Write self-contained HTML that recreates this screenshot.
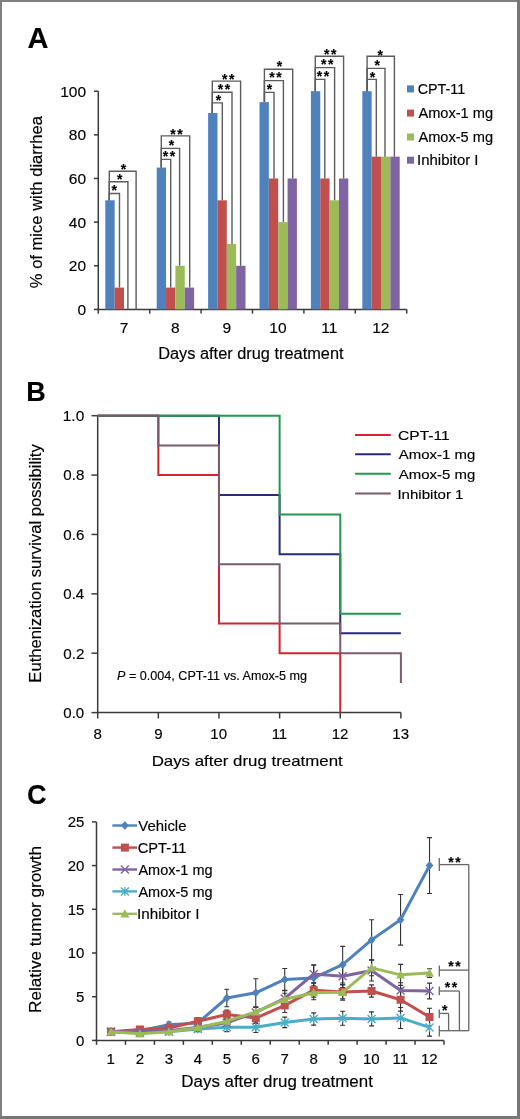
<!DOCTYPE html>
<html><head><meta charset="utf-8"><title>Figure</title>
<style>html,body{margin:0;padding:0;background:#fff;}svg{display:block;}text{stroke:#000;stroke-width:0.15px;}</style>
</head><body>
<svg width="520" height="1119" viewBox="0 0 520 1119" font-family='"Liberation Sans", Arial, sans-serif'>
<rect x="0" y="0" width="520" height="1119" fill="#fff"/>
<text x="27.47" y="47.70" font-size="29" font-weight="bold" fill="#000" >A</text>
<path d="M98.3 91.2 V309.4 H406.7" fill="none" stroke="#3a3a3a" stroke-width="1.5"/>
<path d="M94 309.40 H98.3" stroke="#3a3a3a" stroke-width="1.5"/>
<text x="77.44" y="314.86" font-size="15.5" fill="#000" >0</text>
<path d="M94 265.76 H98.3" stroke="#3a3a3a" stroke-width="1.5"/>
<text x="68.84" y="271.22" font-size="15.5" fill="#000" >20</text>
<path d="M94 222.12 H98.3" stroke="#3a3a3a" stroke-width="1.5"/>
<text x="68.84" y="227.58" font-size="15.5" fill="#000" >40</text>
<path d="M94 178.48 H98.3" stroke="#3a3a3a" stroke-width="1.5"/>
<text x="68.84" y="183.94" font-size="15.5" fill="#000" >60</text>
<path d="M94 134.84 H98.3" stroke="#3a3a3a" stroke-width="1.5"/>
<text x="68.84" y="140.30" font-size="15.5" fill="#000" >80</text>
<path d="M94 91.20 H98.3" stroke="#3a3a3a" stroke-width="1.5"/>
<text x="60.23" y="96.66" font-size="15.5" fill="#000" >100</text>
<path d="M98.30 309.4 V313.6" stroke="#3a3a3a" stroke-width="1.5"/>
<path d="M149.70 309.4 V313.6" stroke="#3a3a3a" stroke-width="1.5"/>
<path d="M201.10 309.4 V313.6" stroke="#3a3a3a" stroke-width="1.5"/>
<path d="M252.50 309.4 V313.6" stroke="#3a3a3a" stroke-width="1.5"/>
<path d="M303.90 309.4 V313.6" stroke="#3a3a3a" stroke-width="1.5"/>
<path d="M355.30 309.4 V313.6" stroke="#3a3a3a" stroke-width="1.5"/>
<path d="M406.70 309.4 V313.6" stroke="#3a3a3a" stroke-width="1.5"/>
<rect x="105.31" y="200.30" width="9.35" height="109.10" fill="#4F81BD"/>
<rect x="114.65" y="287.58" width="9.35" height="21.82" fill="#C0504D"/>
<text x="119.70" y="332.60" font-size="15.5" fill="#000" >7</text>
<rect x="156.71" y="167.57" width="9.35" height="141.83" fill="#4F81BD"/>
<rect x="166.05" y="287.58" width="9.35" height="21.82" fill="#C0504D"/>
<rect x="175.40" y="265.76" width="9.35" height="43.64" fill="#9BBB59"/>
<rect x="184.75" y="287.58" width="9.35" height="21.82" fill="#8064A2"/>
<text x="171.06" y="332.60" font-size="15.5" fill="#000" >8</text>
<rect x="208.11" y="113.02" width="9.35" height="196.38" fill="#4F81BD"/>
<rect x="217.45" y="200.30" width="9.35" height="109.10" fill="#C0504D"/>
<rect x="226.80" y="243.94" width="9.35" height="65.46" fill="#9BBB59"/>
<rect x="236.15" y="265.76" width="9.35" height="43.64" fill="#8064A2"/>
<text x="222.50" y="332.60" font-size="15.5" fill="#000" >9</text>
<rect x="259.51" y="102.11" width="9.35" height="207.29" fill="#4F81BD"/>
<rect x="268.85" y="178.48" width="9.35" height="130.92" fill="#C0504D"/>
<rect x="278.20" y="222.12" width="9.35" height="87.28" fill="#9BBB59"/>
<rect x="287.55" y="178.48" width="9.35" height="130.92" fill="#8064A2"/>
<text x="269.29" y="332.60" font-size="15.5" fill="#000" >10</text>
<rect x="310.91" y="91.20" width="9.35" height="218.20" fill="#4F81BD"/>
<rect x="320.25" y="178.48" width="9.35" height="130.92" fill="#C0504D"/>
<rect x="329.60" y="200.30" width="9.35" height="109.10" fill="#9BBB59"/>
<rect x="338.95" y="178.48" width="9.35" height="130.92" fill="#8064A2"/>
<text x="321.35" y="332.60" font-size="15.5" fill="#000" >11</text>
<rect x="362.31" y="91.20" width="9.35" height="218.20" fill="#4F81BD"/>
<rect x="371.65" y="156.66" width="9.35" height="152.74" fill="#C0504D"/>
<rect x="381.00" y="156.66" width="9.35" height="152.74" fill="#9BBB59"/>
<rect x="390.35" y="156.66" width="9.35" height="152.74" fill="#8064A2"/>
<text x="372.20" y="332.60" font-size="15.5" fill="#000" >12</text>
<path d="M109.3 200.30 V193.5 H119.5 V287.58" fill="none" stroke="#5c5c5c" stroke-width="1.4"/>
<text x="111.47" y="194.77" font-size="14" font-weight="bold" fill="#000">*</text>
<path d="M109.3 200.30 V181.7 H127.9 V309.40" fill="none" stroke="#5c5c5c" stroke-width="1.4"/>
<text x="116.97" y="184.37" font-size="14" font-weight="bold" fill="#000">*</text>
<path d="M109.3 200.30 V171.2 H136.1 V309.40" fill="none" stroke="#5c5c5c" stroke-width="1.4"/>
<text x="120.87" y="174.07" font-size="14" font-weight="bold" fill="#000">*</text>
<path d="M161.3 167.57 V159.4 H170.7 V287.58" fill="none" stroke="#5c5c5c" stroke-width="1.4"/>
<text x="162.77 169.77" y="160.77" font-size="14" font-weight="bold" fill="#000">**</text>
<path d="M161.3 167.57 V148.4 H179.6 V265.76" fill="none" stroke="#5c5c5c" stroke-width="1.4"/>
<text x="168.77" y="149.97" font-size="14" font-weight="bold" fill="#000">*</text>
<path d="M161.3 167.57 V135.9 H189.7 V287.58" fill="none" stroke="#5c5c5c" stroke-width="1.4"/>
<text x="170.22 177.22" y="138.57" font-size="14" font-weight="bold" fill="#000">**</text>
<path d="M212.3 113.02 V102.9 H222.3 V200.30" fill="none" stroke="#5c5c5c" stroke-width="1.4"/>
<text x="215.77" y="104.57" font-size="14" font-weight="bold" fill="#000">*</text>
<path d="M212.3 113.02 V92.3 H232.0 V243.94" fill="none" stroke="#5c5c5c" stroke-width="1.4"/>
<text x="217.67 224.67" y="94.17" font-size="14" font-weight="bold" fill="#000">**</text>
<path d="M212.3 113.02 V81.1 H240.6 V265.76" fill="none" stroke="#5c5c5c" stroke-width="1.4"/>
<text x="222.07 229.07" y="83.77" font-size="14" font-weight="bold" fill="#000">**</text>
<path d="M264.4 102.11 V92.4 H274.0 V178.48" fill="none" stroke="#5c5c5c" stroke-width="1.4"/>
<text x="266.87" y="93.97" font-size="14" font-weight="bold" fill="#000">*</text>
<path d="M264.4 102.11 V80.6 H283.4 V222.12" fill="none" stroke="#5c5c5c" stroke-width="1.4"/>
<text x="269.37 276.37" y="81.87" font-size="14" font-weight="bold" fill="#000">**</text>
<path d="M264.4 102.11 V69.3 H292.7 V178.48" fill="none" stroke="#5c5c5c" stroke-width="1.4"/>
<text x="276.67" y="71.47" font-size="14" font-weight="bold" fill="#000">*</text>
<path d="M315.3 91.20 V79.4 H324.8 V178.48" fill="none" stroke="#5c5c5c" stroke-width="1.4"/>
<text x="316.77 323.77" y="81.47" font-size="14" font-weight="bold" fill="#000">**</text>
<path d="M315.3 91.20 V67.6 H334.6 V200.30" fill="none" stroke="#5c5c5c" stroke-width="1.4"/>
<text x="321.07 328.07" y="69.17" font-size="14" font-weight="bold" fill="#000">**</text>
<path d="M315.3 91.20 V56.3 H343.6 V178.48" fill="none" stroke="#5c5c5c" stroke-width="1.4"/>
<text x="323.97 330.97" y="58.77" font-size="14" font-weight="bold" fill="#000">**</text>
<path d="M367.1 91.20 V79.4 H376.3 V156.66" fill="none" stroke="#5c5c5c" stroke-width="1.4"/>
<text x="369.77" y="81.87" font-size="14" font-weight="bold" fill="#000">*</text>
<path d="M367.1 91.20 V68.4 H385.0 V156.66" fill="none" stroke="#5c5c5c" stroke-width="1.4"/>
<text x="374.57" y="69.77" font-size="14" font-weight="bold" fill="#000">*</text>
<path d="M367.1 91.20 V56.3 H394.4 V156.66" fill="none" stroke="#5c5c5c" stroke-width="1.4"/>
<text x="377.57" y="59.97" font-size="14" font-weight="bold" fill="#000">*</text>
<rect x="407" y="85.40" width="7" height="7" fill="#4F81BD"/>
<text x="417.68" y="93.90" font-size="14" textLength="47.58" lengthAdjust="spacingAndGlyphs" fill="#000" >CPT-11</text>
<rect x="407" y="109.60" width="7" height="7" fill="#C0504D"/>
<text x="418.40" y="118.10" font-size="14" textLength="74.69" lengthAdjust="spacingAndGlyphs" fill="#000" >Amox-1 mg</text>
<rect x="407" y="133.50" width="7" height="7" fill="#9BBB59"/>
<text x="418.40" y="142.00" font-size="14" textLength="74.69" lengthAdjust="spacingAndGlyphs" fill="#000" >Amox-5 mg</text>
<rect x="407" y="156.70" width="7" height="7" fill="#8064A2"/>
<text x="417.06" y="165.20" font-size="14" textLength="61.44" lengthAdjust="spacingAndGlyphs" fill="#000" >Inhibitor I</text>
<text x="158.19" y="359.20" font-size="16" textLength="185.35" lengthAdjust="spacingAndGlyphs" fill="#000" >Days after drug treatment</text>
<text transform="translate(41.60,288.18) rotate(-90)" font-size="16.3" textLength="172.13" lengthAdjust="spacingAndGlyphs" fill="#000">% of mice with diarrhea</text>
<text x="26.25" y="401.20" font-size="27" font-weight="bold" fill="#000" >B</text>
<path d="M97.7 415.7 V712.6 H400.9" fill="none" stroke="#3a3a3a" stroke-width="1.5"/>
<path d="M91.5 712.60 H97.7" stroke="#3a3a3a" stroke-width="1.5"/>
<text x="63.30" y="717.88" font-size="15" textLength="20.93" lengthAdjust="spacingAndGlyphs" fill="#000" >0.0</text>
<path d="M91.5 653.22 H97.7" stroke="#3a3a3a" stroke-width="1.5"/>
<text x="63.29" y="658.50" font-size="15" textLength="21.17" lengthAdjust="spacingAndGlyphs" fill="#000" >0.2</text>
<path d="M91.5 593.84 H97.7" stroke="#3a3a3a" stroke-width="1.5"/>
<text x="63.30" y="599.12" font-size="15" textLength="20.85" lengthAdjust="spacingAndGlyphs" fill="#000" >0.4</text>
<path d="M91.5 534.46 H97.7" stroke="#3a3a3a" stroke-width="1.5"/>
<text x="63.30" y="539.74" font-size="15" textLength="21.01" lengthAdjust="spacingAndGlyphs" fill="#000" >0.6</text>
<path d="M91.5 475.08 H97.7" stroke="#3a3a3a" stroke-width="1.5"/>
<text x="63.30" y="480.36" font-size="15" textLength="21.01" lengthAdjust="spacingAndGlyphs" fill="#000" >0.8</text>
<path d="M91.5 415.70 H97.7" stroke="#3a3a3a" stroke-width="1.5"/>
<text x="62.74" y="420.98" font-size="15" textLength="21.50" lengthAdjust="spacingAndGlyphs" fill="#000" >1.0</text>
<path d="M97.70 712.6 V718.5" stroke="#3a3a3a" stroke-width="1.5"/>
<text x="93.50" y="739.30" font-size="15" fill="#000" >8</text>
<path d="M158.34 712.6 V718.5" stroke="#3a3a3a" stroke-width="1.5"/>
<text x="154.18" y="739.30" font-size="15" fill="#000" >9</text>
<path d="M218.98 712.6 V718.5" stroke="#3a3a3a" stroke-width="1.5"/>
<text x="210.36" y="739.30" font-size="15" fill="#000" >10</text>
<path d="M279.62 712.6 V718.5" stroke="#3a3a3a" stroke-width="1.5"/>
<text x="271.63" y="739.30" font-size="15" fill="#000" >11</text>
<path d="M340.26 712.6 V718.5" stroke="#3a3a3a" stroke-width="1.5"/>
<text x="331.75" y="739.30" font-size="15" fill="#000" >12</text>
<path d="M400.90 712.6 V718.5" stroke="#3a3a3a" stroke-width="1.5"/>
<text x="392.31" y="739.30" font-size="15" fill="#000" >13</text>
<path d="M97.70 415.70 L158.34 415.70 L158.34 475.08 L218.98 475.08 L218.98 623.53 L279.62 623.53 L279.62 653.22 L340.26 653.22 L340.26 712.60" fill="none" stroke="#D42330" stroke-width="2"/>
<path d="M97.70 415.70 L218.98 415.70 L218.98 494.97 L279.62 494.97 L279.62 554.35 L340.26 554.35 L340.26 633.33 L400.90 633.33" fill="none" stroke="#2A2B78" stroke-width="2"/>
<path d="M97.70 415.70 L279.62 415.70 L279.62 514.57 L340.26 514.57 L340.26 613.73 L400.90 613.73" fill="none" stroke="#22984E" stroke-width="2"/>
<path d="M97.70 415.70 L158.34 415.70 L158.34 445.39 L218.98 445.39 L218.98 564.15 L279.62 564.15 L279.62 623.53 L340.26 623.53 L340.26 653.22 L400.90 653.22 L400.90 682.91" fill="none" stroke="#7B5A6D" stroke-width="2"/>
<path d="M355.1 435.0 H390.8" stroke="#D42330" stroke-width="2"/>
<text x="398.02" y="439.90" font-size="13.5" textLength="51.70" lengthAdjust="spacingAndGlyphs" fill="#000" >CPT-11</text>
<path d="M355.1 454.2 H390.8" stroke="#2A2B78" stroke-width="2"/>
<text x="398.80" y="459.10" font-size="13.5" textLength="76.41" lengthAdjust="spacingAndGlyphs" fill="#000" >Amox-1 mg</text>
<path d="M355.1 473.7 H390.8" stroke="#22984E" stroke-width="2"/>
<text x="398.80" y="478.60" font-size="13.5" textLength="76.41" lengthAdjust="spacingAndGlyphs" fill="#000" >Amox-5 mg</text>
<path d="M355.1 493.6 H390.8" stroke="#7B5A6D" stroke-width="2"/>
<text x="397.45" y="498.50" font-size="13.5" textLength="66.06" lengthAdjust="spacingAndGlyphs" fill="#000" >Inhibitor 1</text>
<text x="117.0" y="680" font-size="13" fill="#000" textLength="190" lengthAdjust="spacingAndGlyphs"><tspan font-style="italic">P</tspan> = 0.004, CPT-11 vs. Amox-5 mg</text>
<text x="151.65" y="765.80" font-size="15" textLength="191.09" lengthAdjust="spacingAndGlyphs" fill="#000" >Days after drug treatment</text>
<text transform="translate(41.00,682.63) rotate(-90)" font-size="16.3" textLength="238.44" lengthAdjust="spacingAndGlyphs" fill="#000">Euthenization survival possibility</text>
<text x="27.02" y="804.00" font-size="27" font-weight="bold" fill="#000" >C</text>
<path d="M96.5 821.9 V1040.4 H444.0" fill="none" stroke="#3a3a3a" stroke-width="1.5"/>
<path d="M92 1040.40 H96.5" stroke="#3a3a3a" stroke-width="1.5"/>
<text x="76.00" y="1045.68" font-size="15" fill="#000" >0</text>
<path d="M92 996.70 H96.5" stroke="#3a3a3a" stroke-width="1.5"/>
<text x="76.08" y="1001.98" font-size="15" fill="#000" >5</text>
<path d="M92 953.00 H96.5" stroke="#3a3a3a" stroke-width="1.5"/>
<text x="67.67" y="958.28" font-size="15" fill="#000" >10</text>
<path d="M92 909.30 H96.5" stroke="#3a3a3a" stroke-width="1.5"/>
<text x="67.75" y="914.58" font-size="15" fill="#000" >15</text>
<path d="M92 865.60 H96.5" stroke="#3a3a3a" stroke-width="1.5"/>
<text x="67.67" y="870.88" font-size="15" fill="#000" >20</text>
<path d="M92 821.90 H96.5" stroke="#3a3a3a" stroke-width="1.5"/>
<text x="67.75" y="827.18" font-size="15" fill="#000" >25</text>
<path d="M96.50 1040.4 V1044.8" stroke="#3a3a3a" stroke-width="1.5"/>
<path d="M125.46 1040.4 V1044.8" stroke="#3a3a3a" stroke-width="1.5"/>
<path d="M154.42 1040.4 V1044.8" stroke="#3a3a3a" stroke-width="1.5"/>
<path d="M183.38 1040.4 V1044.8" stroke="#3a3a3a" stroke-width="1.5"/>
<path d="M212.33 1040.4 V1044.8" stroke="#3a3a3a" stroke-width="1.5"/>
<path d="M241.29 1040.4 V1044.8" stroke="#3a3a3a" stroke-width="1.5"/>
<path d="M270.25 1040.4 V1044.8" stroke="#3a3a3a" stroke-width="1.5"/>
<path d="M299.21 1040.4 V1044.8" stroke="#3a3a3a" stroke-width="1.5"/>
<path d="M328.17 1040.4 V1044.8" stroke="#3a3a3a" stroke-width="1.5"/>
<path d="M357.12 1040.4 V1044.8" stroke="#3a3a3a" stroke-width="1.5"/>
<path d="M386.08 1040.4 V1044.8" stroke="#3a3a3a" stroke-width="1.5"/>
<path d="M415.04 1040.4 V1044.8" stroke="#3a3a3a" stroke-width="1.5"/>
<path d="M444.00 1040.4 V1044.8" stroke="#3a3a3a" stroke-width="1.5"/>
<text x="106.59" y="1063.60" font-size="15" fill="#000" >1</text>
<text x="135.78" y="1063.60" font-size="15" fill="#000" >2</text>
<text x="164.73" y="1063.60" font-size="15" fill="#000" >3</text>
<text x="193.77" y="1063.60" font-size="15" fill="#000" >4</text>
<text x="222.65" y="1063.60" font-size="15" fill="#000" >5</text>
<text x="251.53" y="1063.60" font-size="15" fill="#000" >6</text>
<text x="280.57" y="1063.60" font-size="15" fill="#000" >7</text>
<text x="309.49" y="1063.60" font-size="15" fill="#000" >8</text>
<text x="338.48" y="1063.60" font-size="15" fill="#000" >9</text>
<text x="362.98" y="1063.60" font-size="15" fill="#000" >10</text>
<text x="392.57" y="1063.60" font-size="15" fill="#000" >11</text>
<text x="421.01" y="1063.60" font-size="15" fill="#000" >12</text>
<text x="181.35" y="1087.40" font-size="16" textLength="191.50" lengthAdjust="spacingAndGlyphs" fill="#000" >Days after drug treatment</text>
<text transform="translate(41.40,1012.97) rotate(-90)" font-size="16.3" textLength="167.01" lengthAdjust="spacingAndGlyphs" fill="#000">Relative tumor growth</text>
<path d="M110.98 1030.79 V1032.53 M108.48 1030.79 H113.48 M108.48 1032.53 H113.48" stroke="#333" stroke-width="1.1" fill="none"/>
<path d="M139.94 1029.48 V1032.10 M137.44 1029.48 H142.44 M137.44 1032.10 H142.44" stroke="#333" stroke-width="1.1" fill="none"/>
<path d="M168.90 1022.05 V1027.29 M166.40 1022.05 H171.40 M166.40 1027.29 H171.40" stroke="#333" stroke-width="1.1" fill="none"/>
<path d="M197.85 1019.42 V1026.42 M195.35 1019.42 H200.35 M195.35 1026.42 H200.35" stroke="#333" stroke-width="1.1" fill="none"/>
<path d="M226.81 989.27 V1006.75 M224.31 989.27 H229.31 M224.31 1006.75 H229.31" stroke="#333" stroke-width="1.1" fill="none"/>
<path d="M255.77 978.78 V1006.75 M253.27 978.78 H258.27 M253.27 1006.75 H258.27" stroke="#333" stroke-width="1.1" fill="none"/>
<path d="M284.73 968.56 V990.41 M282.23 968.56 H287.23 M282.23 990.41 H287.23" stroke="#333" stroke-width="1.1" fill="none"/>
<path d="M313.69 964.80 V991.02 M311.19 964.80 H316.19 M311.19 991.02 H316.19" stroke="#333" stroke-width="1.1" fill="none"/>
<path d="M342.65 946.36 V983.07 M340.15 946.36 H345.15 M340.15 983.07 H345.15" stroke="#333" stroke-width="1.1" fill="none"/>
<path d="M371.60 919.79 V959.99 M369.10 919.79 H374.10 M369.10 959.99 H374.10" stroke="#333" stroke-width="1.1" fill="none"/>
<path d="M400.56 894.44 V945.13 M398.06 894.44 H403.06 M398.06 945.13 H403.06" stroke="#333" stroke-width="1.1" fill="none"/>
<path d="M429.52 837.63 V893.57 M427.02 837.63 H432.02 M427.02 893.57 H432.02" stroke="#333" stroke-width="1.1" fill="none"/>
<path d="M110.98 1030.79 V1032.53 M108.48 1030.79 H113.48 M108.48 1032.53 H113.48" stroke="#333" stroke-width="1.1" fill="none"/>
<path d="M139.94 1027.73 V1031.22 M137.44 1027.73 H142.44 M137.44 1031.22 H142.44" stroke="#333" stroke-width="1.1" fill="none"/>
<path d="M168.90 1025.54 V1030.79 M166.40 1025.54 H171.40 M166.40 1030.79 H171.40" stroke="#333" stroke-width="1.1" fill="none"/>
<path d="M197.85 1017.68 V1024.67 M195.35 1017.68 H200.35 M195.35 1024.67 H200.35" stroke="#333" stroke-width="1.1" fill="none"/>
<path d="M226.81 1010.16 V1018.90 M224.31 1010.16 H229.31 M224.31 1018.90 H229.31" stroke="#333" stroke-width="1.1" fill="none"/>
<path d="M255.77 1012.87 V1023.36 M253.27 1012.87 H258.27 M253.27 1023.36 H258.27" stroke="#333" stroke-width="1.1" fill="none"/>
<path d="M284.73 998.45 V1012.43 M282.23 998.45 H287.23 M282.23 1012.43 H287.23" stroke="#333" stroke-width="1.1" fill="none"/>
<path d="M313.69 983.15 V997.14 M311.19 983.15 H316.19 M311.19 997.14 H316.19" stroke="#333" stroke-width="1.1" fill="none"/>
<path d="M342.65 984.90 V998.89 M340.15 984.90 H345.15 M340.15 998.89 H345.15" stroke="#333" stroke-width="1.1" fill="none"/>
<path d="M371.60 984.90 V997.14 M369.10 984.90 H374.10 M369.10 997.14 H374.10" stroke="#333" stroke-width="1.1" fill="none"/>
<path d="M400.56 988.40 V1011.12 M398.06 988.40 H403.06 M398.06 1011.12 H403.06" stroke="#333" stroke-width="1.1" fill="none"/>
<path d="M429.52 1008.24 V1025.72 M427.02 1008.24 H432.02 M427.02 1025.72 H432.02" stroke="#333" stroke-width="1.1" fill="none"/>
<path d="M110.98 1030.79 V1032.53 M108.48 1030.79 H113.48 M108.48 1032.53 H113.48" stroke="#333" stroke-width="1.1" fill="none"/>
<path d="M139.94 1030.35 V1032.97 M137.44 1030.35 H142.44 M137.44 1032.97 H142.44" stroke="#333" stroke-width="1.1" fill="none"/>
<path d="M168.90 1029.04 V1032.53 M166.40 1029.04 H171.40 M166.40 1032.53 H171.40" stroke="#333" stroke-width="1.1" fill="none"/>
<path d="M197.85 1024.67 V1029.91 M195.35 1024.67 H200.35 M195.35 1029.91 H200.35" stroke="#333" stroke-width="1.1" fill="none"/>
<path d="M226.81 1019.42 V1026.42 M224.31 1019.42 H229.31 M224.31 1026.42 H229.31" stroke="#333" stroke-width="1.1" fill="none"/>
<path d="M255.77 1007.19 V1017.68 M253.27 1007.19 H258.27 M253.27 1017.68 H258.27" stroke="#333" stroke-width="1.1" fill="none"/>
<path d="M284.73 990.58 V1006.31 M282.23 990.58 H287.23 M282.23 1006.31 H287.23" stroke="#333" stroke-width="1.1" fill="none"/>
<path d="M313.69 965.24 V982.72 M311.19 965.24 H316.19 M311.19 982.72 H316.19" stroke="#333" stroke-width="1.1" fill="none"/>
<path d="M342.65 964.80 V987.52 M340.15 964.80 H345.15 M340.15 987.52 H345.15" stroke="#333" stroke-width="1.1" fill="none"/>
<path d="M371.60 959.99 V980.97 M369.10 959.99 H374.10 M369.10 980.97 H374.10" stroke="#333" stroke-width="1.1" fill="none"/>
<path d="M400.56 982.72 V998.45 M398.06 982.72 H403.06 M398.06 998.45 H403.06" stroke="#333" stroke-width="1.1" fill="none"/>
<path d="M429.52 983.15 V998.89 M427.02 983.15 H432.02 M427.02 998.89 H432.02" stroke="#333" stroke-width="1.1" fill="none"/>
<path d="M110.98 1030.79 V1032.53 M108.48 1030.79 H113.48 M108.48 1032.53 H113.48" stroke="#333" stroke-width="1.1" fill="none"/>
<path d="M139.94 1031.22 V1033.85 M137.44 1031.22 H142.44 M137.44 1033.85 H142.44" stroke="#333" stroke-width="1.1" fill="none"/>
<path d="M168.90 1029.91 V1033.41 M166.40 1029.91 H171.40 M166.40 1033.41 H171.40" stroke="#333" stroke-width="1.1" fill="none"/>
<path d="M197.85 1026.42 V1031.66 M195.35 1026.42 H200.35 M195.35 1031.66 H200.35" stroke="#333" stroke-width="1.1" fill="none"/>
<path d="M226.81 1022.92 V1031.66 M224.31 1022.92 H229.31 M224.31 1031.66 H229.31" stroke="#333" stroke-width="1.1" fill="none"/>
<path d="M255.77 1022.05 V1032.53 M253.27 1022.05 H258.27 M253.27 1032.53 H258.27" stroke="#333" stroke-width="1.1" fill="none"/>
<path d="M284.73 1017.15 V1027.64 M282.23 1017.15 H287.23 M282.23 1027.64 H287.23" stroke="#333" stroke-width="1.1" fill="none"/>
<path d="M313.69 1012.87 V1025.11 M311.19 1012.87 H316.19 M311.19 1025.11 H316.19" stroke="#333" stroke-width="1.1" fill="none"/>
<path d="M342.65 1011.21 V1025.19 M340.15 1011.21 H345.15 M340.15 1025.19 H345.15" stroke="#333" stroke-width="1.1" fill="none"/>
<path d="M371.60 1011.91 V1025.89 M369.10 1011.91 H374.10 M369.10 1025.89 H374.10" stroke="#333" stroke-width="1.1" fill="none"/>
<path d="M400.56 1007.45 V1028.43 M398.06 1007.45 H403.06 M398.06 1028.43 H403.06" stroke="#333" stroke-width="1.1" fill="none"/>
<path d="M429.52 1018.64 V1036.12 M427.02 1018.64 H432.02 M427.02 1036.12 H432.02" stroke="#333" stroke-width="1.1" fill="none"/>
<path d="M110.98 1030.79 V1032.53 M108.48 1030.79 H113.48 M108.48 1032.53 H113.48" stroke="#333" stroke-width="1.1" fill="none"/>
<path d="M139.94 1032.53 V1035.16 M137.44 1032.53 H142.44 M137.44 1035.16 H142.44" stroke="#333" stroke-width="1.1" fill="none"/>
<path d="M168.90 1029.91 V1033.41 M166.40 1029.91 H171.40 M166.40 1033.41 H171.40" stroke="#333" stroke-width="1.1" fill="none"/>
<path d="M197.85 1025.11 V1030.35 M195.35 1025.11 H200.35 M195.35 1030.35 H200.35" stroke="#333" stroke-width="1.1" fill="none"/>
<path d="M226.81 1017.68 V1024.67 M224.31 1017.68 H229.31 M224.31 1024.67 H229.31" stroke="#333" stroke-width="1.1" fill="none"/>
<path d="M255.77 1007.45 V1016.19 M253.27 1007.45 H258.27 M253.27 1016.19 H258.27" stroke="#333" stroke-width="1.1" fill="none"/>
<path d="M284.73 993.20 V1005.44 M282.23 993.20 H287.23 M282.23 1005.44 H287.23" stroke="#333" stroke-width="1.1" fill="none"/>
<path d="M313.69 985.78 V999.76 M311.19 985.78 H316.19 M311.19 999.76 H316.19" stroke="#333" stroke-width="1.1" fill="none"/>
<path d="M342.65 984.46 V1000.20 M340.15 984.46 H345.15 M340.15 1000.20 H345.15" stroke="#333" stroke-width="1.1" fill="none"/>
<path d="M371.60 959.99 V975.72 M369.10 959.99 H374.10 M369.10 975.72 H374.10" stroke="#333" stroke-width="1.1" fill="none"/>
<path d="M400.56 964.36 V985.34 M398.06 964.36 H403.06 M398.06 985.34 H403.06" stroke="#333" stroke-width="1.1" fill="none"/>
<path d="M429.52 968.73 V977.47 M427.02 968.73 H432.02 M427.02 977.47 H432.02" stroke="#333" stroke-width="1.1" fill="none"/>
<path d="M110.98 1031.66 L139.94 1032.53 L168.90 1031.66 L197.85 1029.04 L226.81 1027.29 L255.77 1027.29 L284.73 1022.40 L313.69 1018.99 L342.65 1018.20 L371.60 1018.90 L400.56 1017.94 L429.52 1027.38" fill="none" stroke="#4BACC6" stroke-width="3" stroke-linejoin="round"/>
<path d="M106.98 1027.66 L114.98 1035.66 M106.98 1035.66 L114.98 1027.66 M110.98 1027.26 V1036.06" stroke="#4BACC6" stroke-width="1.4" fill="none"/>
<path d="M135.94 1028.53 L143.94 1036.53 M135.94 1036.53 L143.94 1028.53 M139.94 1028.13 V1036.93" stroke="#4BACC6" stroke-width="1.4" fill="none"/>
<path d="M164.90 1027.66 L172.90 1035.66 M164.90 1035.66 L172.90 1027.66 M168.90 1027.26 V1036.06" stroke="#4BACC6" stroke-width="1.4" fill="none"/>
<path d="M193.85 1025.04 L201.85 1033.04 M193.85 1033.04 L201.85 1025.04 M197.85 1024.64 V1033.44" stroke="#4BACC6" stroke-width="1.4" fill="none"/>
<path d="M222.81 1023.29 L230.81 1031.29 M222.81 1031.29 L230.81 1023.29 M226.81 1022.89 V1031.69" stroke="#4BACC6" stroke-width="1.4" fill="none"/>
<path d="M251.77 1023.29 L259.77 1031.29 M251.77 1031.29 L259.77 1023.29 M255.77 1022.89 V1031.69" stroke="#4BACC6" stroke-width="1.4" fill="none"/>
<path d="M280.73 1018.40 L288.73 1026.40 M280.73 1026.40 L288.73 1018.40 M284.73 1018.00 V1026.80" stroke="#4BACC6" stroke-width="1.4" fill="none"/>
<path d="M309.69 1014.99 L317.69 1022.99 M309.69 1022.99 L317.69 1014.99 M313.69 1014.59 V1023.39" stroke="#4BACC6" stroke-width="1.4" fill="none"/>
<path d="M338.65 1014.20 L346.65 1022.20 M338.65 1022.20 L346.65 1014.20 M342.65 1013.80 V1022.60" stroke="#4BACC6" stroke-width="1.4" fill="none"/>
<path d="M367.60 1014.90 L375.60 1022.90 M367.60 1022.90 L375.60 1014.90 M371.60 1014.50 V1023.30" stroke="#4BACC6" stroke-width="1.4" fill="none"/>
<path d="M396.56 1013.94 L404.56 1021.94 M396.56 1021.94 L404.56 1013.94 M400.56 1013.54 V1022.34" stroke="#4BACC6" stroke-width="1.4" fill="none"/>
<path d="M425.52 1023.38 L433.52 1031.38 M425.52 1031.38 L433.52 1023.38 M429.52 1022.98 V1031.78" stroke="#4BACC6" stroke-width="1.4" fill="none"/>
<path d="M110.98 1031.66 L139.94 1030.79 L168.90 1024.67 L197.85 1022.92 L226.81 998.01 L255.77 992.77 L284.73 979.48 L313.69 977.91 L342.65 964.71 L371.60 939.89 L400.56 919.79 L429.52 865.60" fill="none" stroke="#4F81BD" stroke-width="3" stroke-linejoin="round"/>
<path d="M110.98 1027.16 L114.80 1031.66 L110.98 1036.16 L107.15 1031.66Z" fill="#4F81BD"/>
<path d="M139.94 1026.29 L143.76 1030.79 L139.94 1035.29 L136.11 1030.79Z" fill="#4F81BD"/>
<path d="M168.90 1020.17 L172.72 1024.67 L168.90 1029.17 L165.07 1024.67Z" fill="#4F81BD"/>
<path d="M197.85 1018.42 L201.68 1022.92 L197.85 1027.42 L194.03 1022.92Z" fill="#4F81BD"/>
<path d="M226.81 993.51 L230.64 998.01 L226.81 1002.51 L222.99 998.01Z" fill="#4F81BD"/>
<path d="M255.77 988.27 L259.60 992.77 L255.77 997.27 L251.95 992.77Z" fill="#4F81BD"/>
<path d="M284.73 974.98 L288.55 979.48 L284.73 983.98 L280.90 979.48Z" fill="#4F81BD"/>
<path d="M313.69 973.41 L317.51 977.91 L313.69 982.41 L309.86 977.91Z" fill="#4F81BD"/>
<path d="M342.65 960.21 L346.47 964.71 L342.65 969.21 L338.82 964.71Z" fill="#4F81BD"/>
<path d="M371.60 935.39 L375.43 939.89 L371.60 944.39 L367.78 939.89Z" fill="#4F81BD"/>
<path d="M400.56 915.29 L404.39 919.79 L400.56 924.29 L396.74 919.79Z" fill="#4F81BD"/>
<path d="M429.52 861.10 L433.35 865.60 L429.52 870.10 L425.70 865.60Z" fill="#4F81BD"/>
<path d="M110.98 1031.66 L139.94 1029.48 L168.90 1028.16 L197.85 1021.17 L226.81 1014.53 L255.77 1018.11 L284.73 1005.44 L313.69 990.15 L342.65 991.89 L371.60 991.02 L400.56 999.76 L429.52 1016.98" fill="none" stroke="#C0504D" stroke-width="3" stroke-linejoin="round"/>
<rect x="106.98" y="1027.66" width="8.00" height="8.00" fill="#C0504D"/>
<rect x="135.94" y="1025.48" width="8.00" height="8.00" fill="#C0504D"/>
<rect x="164.90" y="1024.16" width="8.00" height="8.00" fill="#C0504D"/>
<rect x="193.85" y="1017.17" width="8.00" height="8.00" fill="#C0504D"/>
<rect x="222.81" y="1010.53" width="8.00" height="8.00" fill="#C0504D"/>
<rect x="251.77" y="1014.11" width="8.00" height="8.00" fill="#C0504D"/>
<rect x="280.73" y="1001.44" width="8.00" height="8.00" fill="#C0504D"/>
<rect x="309.69" y="986.15" width="8.00" height="8.00" fill="#C0504D"/>
<rect x="338.65" y="987.89" width="8.00" height="8.00" fill="#C0504D"/>
<rect x="367.60" y="987.02" width="8.00" height="8.00" fill="#C0504D"/>
<rect x="396.56" y="995.76" width="8.00" height="8.00" fill="#C0504D"/>
<rect x="425.52" y="1012.98" width="8.00" height="8.00" fill="#C0504D"/>
<path d="M110.98 1031.66 L139.94 1031.66 L168.90 1030.79 L197.85 1027.29 L226.81 1022.92 L255.77 1012.43 L284.73 998.45 L313.69 973.98 L342.65 976.16 L371.60 970.48 L400.56 990.58 L429.52 991.02" fill="none" stroke="#8064A2" stroke-width="3" stroke-linejoin="round"/>
<path d="M106.98 1027.66 L114.98 1035.66 M106.98 1035.66 L114.98 1027.66" stroke="#8064A2" stroke-width="1.4" fill="none"/>
<path d="M135.94 1027.66 L143.94 1035.66 M135.94 1035.66 L143.94 1027.66" stroke="#8064A2" stroke-width="1.4" fill="none"/>
<path d="M164.90 1026.79 L172.90 1034.79 M164.90 1034.79 L172.90 1026.79" stroke="#8064A2" stroke-width="1.4" fill="none"/>
<path d="M193.85 1023.29 L201.85 1031.29 M193.85 1031.29 L201.85 1023.29" stroke="#8064A2" stroke-width="1.4" fill="none"/>
<path d="M222.81 1018.92 L230.81 1026.92 M222.81 1026.92 L230.81 1018.92" stroke="#8064A2" stroke-width="1.4" fill="none"/>
<path d="M251.77 1008.43 L259.77 1016.43 M251.77 1016.43 L259.77 1008.43" stroke="#8064A2" stroke-width="1.4" fill="none"/>
<path d="M280.73 994.45 L288.73 1002.45 M280.73 1002.45 L288.73 994.45" stroke="#8064A2" stroke-width="1.4" fill="none"/>
<path d="M309.69 969.98 L317.69 977.98 M309.69 977.98 L317.69 969.98" stroke="#8064A2" stroke-width="1.4" fill="none"/>
<path d="M338.65 972.16 L346.65 980.16 M338.65 980.16 L346.65 972.16" stroke="#8064A2" stroke-width="1.4" fill="none"/>
<path d="M367.60 966.48 L375.60 974.48 M367.60 974.48 L375.60 966.48" stroke="#8064A2" stroke-width="1.4" fill="none"/>
<path d="M396.56 986.58 L404.56 994.58 M396.56 994.58 L404.56 986.58" stroke="#8064A2" stroke-width="1.4" fill="none"/>
<path d="M425.52 987.02 L433.52 995.02 M425.52 995.02 L433.52 987.02" stroke="#8064A2" stroke-width="1.4" fill="none"/>
<path d="M110.98 1031.66 L139.94 1033.85 L168.90 1031.66 L197.85 1027.73 L226.81 1021.17 L255.77 1011.82 L284.73 999.32 L313.69 992.77 L342.65 992.33 L371.60 967.86 L400.56 974.85 L429.52 973.10" fill="none" stroke="#9BBB59" stroke-width="3" stroke-linejoin="round"/>
<path d="M110.98 1027.16 L115.48 1035.26 L106.48 1035.26Z" fill="#9BBB59"/>
<path d="M139.94 1029.35 L144.44 1037.44 L135.44 1037.44Z" fill="#9BBB59"/>
<path d="M168.90 1027.16 L173.40 1035.26 L164.40 1035.26Z" fill="#9BBB59"/>
<path d="M197.85 1023.23 L202.35 1031.33 L193.35 1031.33Z" fill="#9BBB59"/>
<path d="M226.81 1016.67 L231.31 1024.77 L222.31 1024.77Z" fill="#9BBB59"/>
<path d="M255.77 1007.32 L260.27 1015.42 L251.27 1015.42Z" fill="#9BBB59"/>
<path d="M284.73 994.82 L289.23 1002.92 L280.23 1002.92Z" fill="#9BBB59"/>
<path d="M313.69 988.27 L318.19 996.37 L309.19 996.37Z" fill="#9BBB59"/>
<path d="M342.65 987.83 L347.15 995.93 L338.15 995.93Z" fill="#9BBB59"/>
<path d="M371.60 963.36 L376.10 971.46 L367.10 971.46Z" fill="#9BBB59"/>
<path d="M400.56 970.35 L405.06 978.45 L396.06 978.45Z" fill="#9BBB59"/>
<path d="M429.52 968.60 L434.02 976.70 L425.02 976.70Z" fill="#9BBB59"/>
<path d="M112.4 825.5 H137" stroke="#4F81BD" stroke-width="2.4"/>
<path d="M124.90 821.00 L128.72 825.50 L124.90 830.00 L121.08 825.50Z" fill="#4F81BD"/>
<text x="138.33" y="830.60" font-size="14" textLength="48.14" lengthAdjust="spacingAndGlyphs" fill="#000" >Vehicle</text>
<path d="M112.4 847.6 H137" stroke="#C0504D" stroke-width="2.4"/>
<rect x="120.90" y="843.60" width="8.00" height="8.00" fill="#C0504D"/>
<text x="137.66" y="852.70" font-size="14" textLength="48.81" lengthAdjust="spacingAndGlyphs" fill="#000" >CPT-11</text>
<path d="M112.4 869.5 H137" stroke="#8064A2" stroke-width="2.4"/>
<path d="M120.90 865.50 L128.90 873.50 M120.90 873.50 L128.90 865.50" stroke="#8064A2" stroke-width="1.4" fill="none"/>
<text x="138.40" y="874.60" font-size="14" textLength="74.18" lengthAdjust="spacingAndGlyphs" fill="#000" >Amox-1 mg</text>
<path d="M112.4 891.4 H137" stroke="#4BACC6" stroke-width="2.4"/>
<path d="M120.90 887.40 L128.90 895.40 M120.90 895.40 L128.90 887.40 M124.90 887.00 V895.80" stroke="#4BACC6" stroke-width="1.4" fill="none"/>
<text x="138.40" y="896.50" font-size="14" textLength="74.18" lengthAdjust="spacingAndGlyphs" fill="#000" >Amox-5 mg</text>
<path d="M112.4 913.8 H137" stroke="#9BBB59" stroke-width="2.4"/>
<path d="M124.90 909.30 L129.40 917.40 L120.40 917.40Z" fill="#9BBB59"/>
<text x="137.03" y="918.90" font-size="14" textLength="62.49" lengthAdjust="spacingAndGlyphs" fill="#000" >Inhibitor I</text>
<path d="M439.3 858.1 V870.9" stroke="#666" stroke-width="1.3"/>
<path d="M439.3 965.4 V976.6" stroke="#666" stroke-width="1.3"/>
<path d="M439.3 986.5 V995.3" stroke="#666" stroke-width="1.3"/>
<path d="M439.3 1009.5 V1017.9" stroke="#666" stroke-width="1.3"/>
<path d="M439.3 1025.8 V1036.6" stroke="#666" stroke-width="1.3"/>
<path d="M439.3 864.6 H468.8" stroke="#666" stroke-width="1.3"/>
<path d="M439.3 970.1 H468.8" stroke="#666" stroke-width="1.3"/>
<path d="M439.3 991 H459.4" stroke="#666" stroke-width="1.3"/>
<path d="M439.3 1013.4 H448.6" stroke="#666" stroke-width="1.3"/>
<path d="M439.3 1030.7 H468.8" stroke="#666" stroke-width="1.3"/>
<path d="M468.8 864.6 V1030.7" stroke="#666" stroke-width="1.3"/>
<path d="M459.4 991 V1030.7" stroke="#666" stroke-width="1.3"/>
<path d="M448.6 1013.4 V1030.7" stroke="#666" stroke-width="1.3"/>
<text x="448.37 455.37" y="866.77" font-size="14" font-weight="bold" fill="#000">**</text>
<text x="448.37 455.37" y="971.27" font-size="14" font-weight="bold" fill="#000">**</text>
<text x="444.87 451.87" y="992.07" font-size="14" font-weight="bold" fill="#000">**</text>
<text x="442.07" y="1015.17" font-size="14" font-weight="bold" fill="#000">*</text>
<rect x="0" y="0" width="520" height="2" fill="#808080"/>
<rect x="0" y="0" width="2" height="1119" fill="#808080"/>
<rect x="517" y="0" width="3" height="1119" fill="#777"/>
<rect x="0" y="1116" width="520" height="3" fill="#777"/>
</svg>
</body></html>
